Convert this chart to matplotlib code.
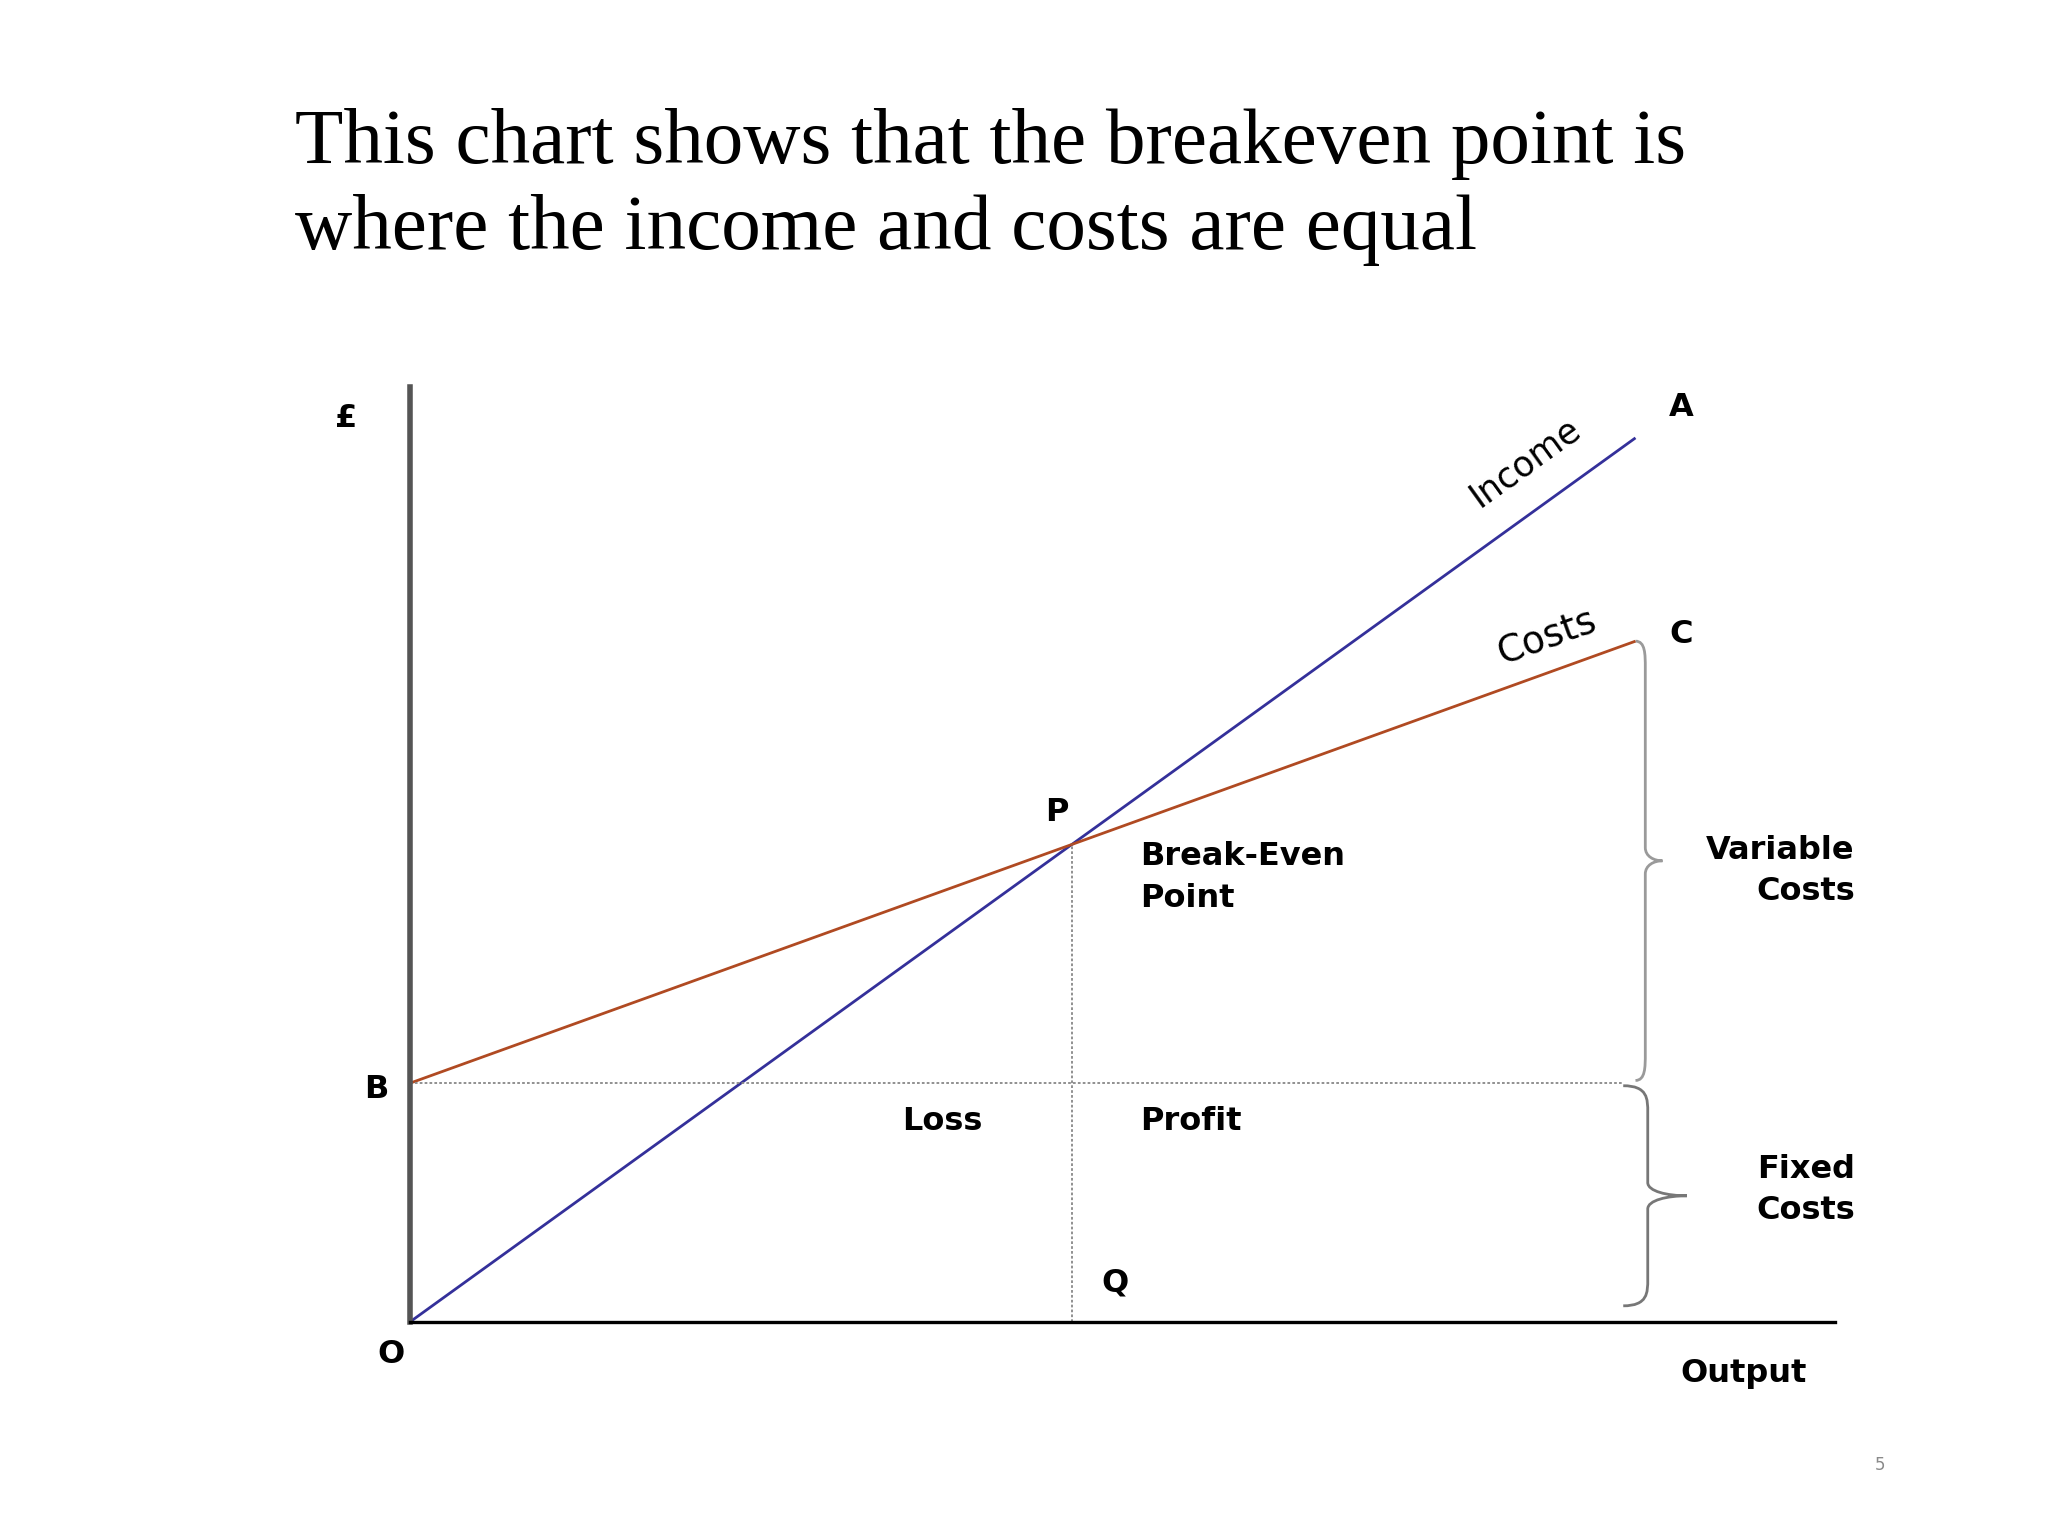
import numpy as np
import matplotlib
matplotlib.use("Agg")
import matplotlib.pyplot as plt
from matplotlib.path import Path
from matplotlib.patches import PathPatch

# ---- data (break-even model) ----
output = [0, 100]            # output range drawn
price = 1.0                  # income per unit of output
fixed_costs = 27             # fixed costs (B)
variable_rate = 0.5          # variable cost per unit
income = [price * q for q in output]
costs = [fixed_costs + variable_rate * q for q in output]
breakeven_q = fixed_costs / (price - variable_rate)
breakeven_v = price * breakeven_q

title_lines = ["This chart shows that the breakeven point is",
               "where the income and costs are equal"]

fig = plt.figure(figsize=(20.48, 15.36), dpi=100)
fig.patch.set_facecolor("white")

for txt, yb in zip(title_lines, [0.894, 0.838]):
    fig.text(0.144, yb, txt, fontsize=57, family="Liberation Serif",
             va="baseline", ha="left", color="black")
fig.text(0.918, 0.046, "5", fontsize=12, color="#8a8a8a", ha="center", va="center")

ax = fig.add_axes([0.2003, 0.1395, 0.6958, 0.6088])
ax.set_xlim(0, 116.3)
ax.set_ylim(0, 105.8)
for s in ["top", "right"]:
    ax.spines[s].set_visible(False)
ax.spines["left"].set_color("#555555")
ax.spines["left"].set_linewidth(4)
ax.spines["bottom"].set_color("black")
ax.spines["bottom"].set_linewidth(2.4)
ax.set_xticks([])
ax.set_yticks([])
ax.set_facecolor("white")

income_col = "#34309a"
cost_col = "#b04a22"
ax.plot(output, income, color=income_col, lw=2.0, solid_capstyle="butt")
ax.plot(output, costs, color=cost_col, lw=2.0, solid_capstyle="butt")

# dotted guides
ax.plot([0, output[-1] - 1], [fixed_costs, fixed_costs], color="#888888", lw=1.3, ls=(0, (1.5, 1.2)))
ax.plot([breakeven_q, breakeven_q], [0, breakeven_v], color="#888888", lw=1.3, ls=(0, (1.5, 1.2)))

def brace(ax, x, y0, y1, w, tip, color):
    """Vertical curly brace from y0 (top) to y1 (bottom), opening to left at x, tip pointing right."""
    ym = (y0 + y1) / 2
    xr = x + w
    verts = [
        (x, y0), (xr, y0), (xr, y0 - 1.5), (xr, y0 - 3),
        (xr, ym + 1.5),
        (xr, ym + 0.5), (xr + tip * 0.5, ym), (xr + tip, ym),
        (xr + tip * 0.5, ym), (xr, ym - 0.5), (xr, ym - 1.5),
        (xr, y1 + 3),
        (xr, y1 + 1.5), (xr, y1), (x, y1),
    ]
    codes = [Path.MOVETO, Path.CURVE4, Path.CURVE4, Path.CURVE4,
             Path.LINETO,
             Path.CURVE4, Path.CURVE4, Path.CURVE4,
             Path.CURVE4, Path.CURVE4, Path.CURVE4,
             Path.LINETO,
             Path.CURVE4, Path.CURVE4, Path.CURVE4]
    ax.add_patch(PathPatch(Path(verts, codes), fill=False, edgecolor=color, lw=2.0, clip_on=False))

brace(ax, output[-1], costs[-1], fixed_costs + 0.3, 0.8, 1.4, "#9a9a9a")
brace(ax, output[-1] - 1.0, fixed_costs - 0.3, 1.8, 2.0, 3.2, "#777777")

# labels
lab = dict(fontsize=23, fontweight="bold", family="DejaVu Sans", color="black", clip_on=False)
ax.text(-5.2, 102.2, "£", ha="center", va="center", **lab)
ax.text(103.7, 103.4, "A", ha="center", va="center", **lab)
ax.text(103.7, 77.7, "C", ha="center", va="center", **lab)
ax.text(breakeven_q - 1.2, 57.6, "P", ha="center", va="center", **lab)
ax.text(-2.8, 26.3, "B", ha="center", va="center", **lab)
ax.text(-1.6, -3.7, "O", ha="center", va="center", **lab)
ax.text(breakeven_q + 3.5, 4.4, "Q", ha="center", va="center", **lab)
ax.text(108.8, -5.9, "Output", ha="center", va="center", **lab)
ax.text(117.9, 51.0, "Variable\nCosts", ha="right", va="center", linespacing=1.45, **lab)
ax.text(117.9, 14.9, "Fixed\nCosts", ha="right", va="center", linespacing=1.45, **lab)
ax.text(59.6, 50.3, "Break-Even\nPoint", ha="left", va="center", linespacing=1.45, **lab)
ax.text(43.4, 22.6, "Loss", ha="center", va="center", **lab)
ax.text(59.6, 22.6, "Profit", ha="left", va="center", **lab)

# rotated line labels
def screen_angle(x0, y0, x1, y1):
    p0 = ax.transData.transform((x0, y0))
    p1 = ax.transData.transform((x1, y1))
    return np.degrees(np.arctan2(p1[1] - p0[1], p1[0] - p0[0]))

ang_i = screen_angle(output[0], income[0], output[-1], income[-1])
ang_c = screen_angle(output[0], costs[0], output[-1], costs[-1])
ax.text(91.0, 97.2, "Income", rotation=ang_i, rotation_mode="anchor", ha="center", va="center",
        fontsize=25, family="DejaVu Sans", color="black")
ax.text(92.8, 77.4, "Costs", rotation=ang_c, rotation_mode="anchor", ha="center", va="center",
        fontsize=27, family="DejaVu Sans", color="black")

fig.savefig("out.png", dpi=100, facecolor="white")
